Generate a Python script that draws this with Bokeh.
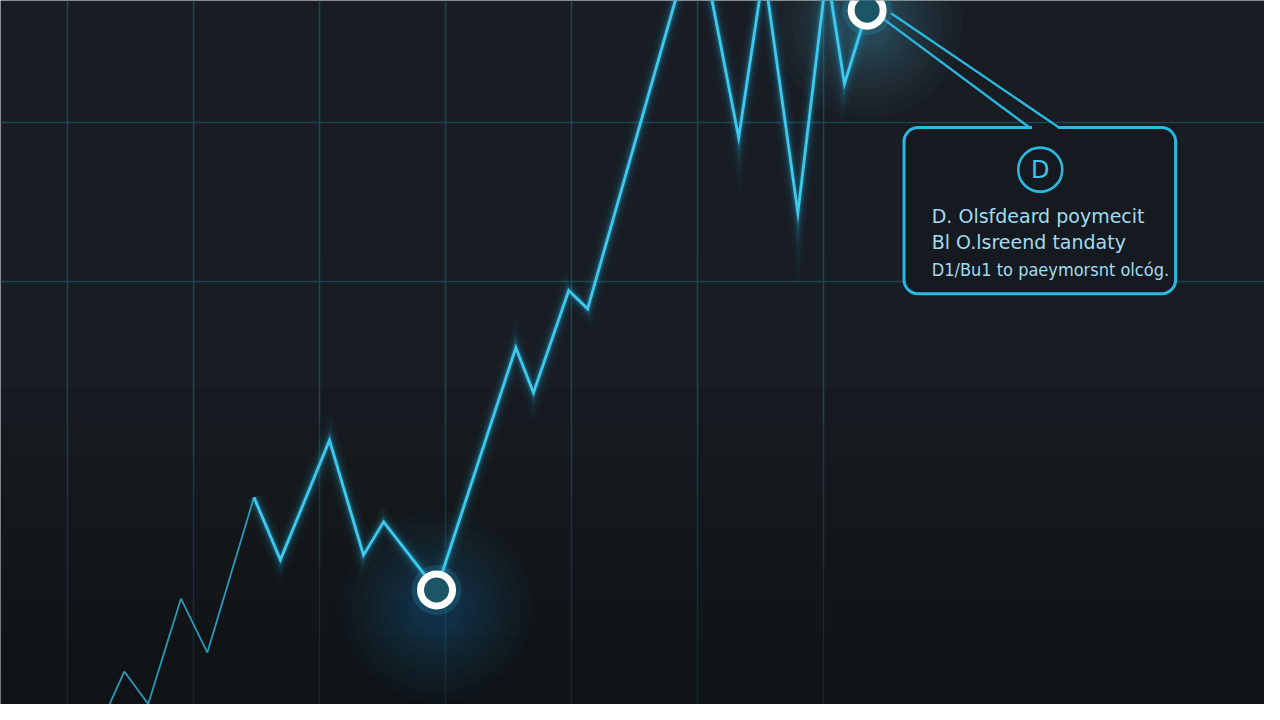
import numpy as np
from bokeh.plotting import figure
from bokeh.models import BoxAnnotation, FixedTicker, Range1d
from bokeh.core.properties import value
from bokeh.embed import file_html
from bokeh.resources import INLINE

# ---- data ----
period = [0.28, 0.45, 0.64, 0.90, 1.11, 1.48, 1.69, 2.08, 2.35, 2.51, 2.93,
          3.56, 3.70, 3.98, 4.13, 5.00, 5.33, 5.53, 5.80, 6.03, 6.17, 6.35]
level = [4.7, 10.7, 6.6, 19.9, 13.1, 32.7, 24.8, 39.9, 25.4, 29.6, 21.0,
         51.6, 45.9, 58.8, 56.5, 105.1, 78.1, 99.3, 68.6, 99.1, 84.9, 94.2]
highlight_idx = [10, 21]
x_ticks = [0, 1, 2, 3, 4, 5, 6]
y_ticks = [60, 80, 100]
callout_badge = "D"
callout_lines = ["D. Olsfdeard poymecit",
                 "Bl O.lsreend tandaty",
                 "D1/Bu1 to paeymorsnt olcóg."]

BG = "#181c23"
CYAN = "#3fc9ee"
GLOW = "#1fa9d6"
BOXC = "#2bb8e0"
X0, X1, Y0, Y1 = -0.533, 9.506, 6.54, 95.43

p = figure(width=1264, height=704, output_backend="svg", toolbar_location=None,
           x_range=Range1d(X0, X1), y_range=Range1d(Y0, Y1),
           min_border=0, background_fill_color=BG, border_fill_color=BG)
p.outline_line_color = None
p.axis.visible = False
p.xgrid.ticker = FixedTicker(ticks=x_ticks)
p.ygrid.ticker = FixedTicker(ticks=y_ticks)
for g in (p.xgrid, p.ygrid):
    g.grid_line_color = "#1c4d55"
    g.grid_line_alpha = 0.85
    g.grid_line_width = 1.6

# darker towards the bottom (vignette bands over the grid)
for t in np.linspace(Y0 + 4, Y0 + 40, 9):
    p.add_layout(BoxAnnotation(top=float(t), fill_color="#0b0e12", fill_alpha=0.07,
                               line_alpha=0, level="underlay"))

px = np.array(period)
py = np.array(level)

# soft halos behind highlighted points
halo_sizes = [190, 170, 150, 132, 116, 102, 90, 78, 68, 58, 50]
for k, dy, col, a in [(highlight_idx[0], -2.2, "#1a8fb4", 0.03),
                      (highlight_idx[1], -1.5, "#5ab2cf", 0.035)]:
    for s in halo_sizes:
        p.scatter([px[k]], [py[k] + dy], size=s, fill_color=col,
                  fill_alpha=a, line_color=None)

# dim early segment
p.line(px[:7], py[:7], line_color="#2aa8c8", line_width=1.8, line_alpha=0.9)

# glowing main segment
g0 = 5
for w, a in [(20, 0.04), (14, 0.06), (9, 0.12), (5.5, 0.22)]:
    p.line(px[g0:], py[g0:], line_color=GLOW, line_width=w, line_alpha=a,
           line_join="miter")
p.line(px[g0:], py[g0:], line_color=CYAN, line_width=2.8, line_join="miter")

# callout box (drawn under the glyphs)
box = BoxAnnotation(left=6.643, right=8.80, top=79.38, bottom=58.4,
                    fill_color="#161b21", fill_alpha=0.97,
                    line_color=BOXC, line_alpha=1.0, line_width=3,
                    border_radius=14, level="underlay")
p.add_layout(box)
p.segment(x0=[7.66], y0=[79.38], x1=[7.87], y1=[79.38], line_color="#161b21",
          line_width=6)
# callout tail
p.segment(x0=[6.47, 6.54], y0=[93.2, 93.83], x1=[7.647, 7.882], y1=[79.3, 79.3],
          line_color=BOXC, line_width=2.4)

# highlighted ring markers
hx = [px[k] for k in highlight_idx]
hy = [py[k] for k in highlight_idx]
p.scatter(hx, hy, size=50, fill_color="#2aa8d0", fill_alpha=0.22, line_color=None)
p.scatter(hx, hy, size=32, fill_color="#1b5566", line_color="white",
          line_width=7)

# badge
p.scatter([7.725], [74.07], size=44, fill_color=None, line_color=BOXC,
          line_width=2.6)
p.text([7.725], [74.07], text=[callout_badge], text_align="center",
       text_baseline="middle", text_color="#3cc8ec", text_font_size="24px",
       text_font=value("DejaVu Sans"))

# callout text
ty = [68.27, 64.94, 61.48]
p.text([6.863] * 2, ty[:2], text=callout_lines[:2], text_align="left",
       text_baseline="middle", text_color="#a3dbee", text_font_size="19px",
       text_font=value("DejaVu Sans"))
p.text([6.863], ty[2:], text=callout_lines[2:], text_align="left",
       text_baseline="middle", text_color="#a3dbee", text_font_size="18px",
       text_font=value("DejaVu Sans Condensed"))

open("out.html", "w").write(file_html(p, INLINE))
